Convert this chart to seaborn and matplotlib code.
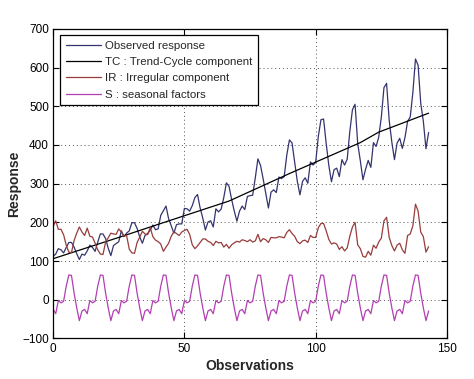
import numpy as np
import pandas as pd
import matplotlib
matplotlib.use("Agg")
import matplotlib.pyplot as plt
import seaborn as sns

# Dados
observed = [112, 118, 132, 129, 121, 135, 148, 148, 136, 119, 104, 118,
            115, 126, 141, 135, 125, 149, 170, 170, 158, 133, 114, 140,
            145, 150, 178, 163, 172, 178, 199, 199, 184, 162, 146, 166,
            171, 180, 193, 181, 183, 218, 230, 242, 209, 191, 172, 194,
            196, 196, 236, 235, 229, 243, 264, 272, 237, 211, 180, 201,
            204, 188, 235, 227, 234, 264, 302, 293, 259, 229, 203, 229,
            242, 233, 267, 269, 270, 315, 364, 347, 312, 274, 237, 278,
            284, 277, 317, 313, 318, 374, 413, 405, 355, 306, 271, 306,
            315, 301, 356, 348, 355, 422, 465, 467, 404, 347, 305, 336,
            340, 318, 362, 348, 363, 435, 491, 505, 404, 359, 310, 337,
            360, 342, 406, 396, 420, 472, 548, 559, 463, 407, 362, 405,
            417, 391, 419, 461, 472, 535, 622, 606, 508, 461, 390, 432]

# Tendência (pontos lidos ao longo da reta)
tc_x = [0, 25, 41, 67, 90, 117, 124, 143]
tc_y = [106, 161, 197, 255, 326, 406, 433, 482]

irregular = [189, 204, 182, 182, 168, 141, 123, 122, 153, 172, 188, 175,
             166, 185, 164, 162, 146, 129, 118, 117, 149, 160, 172, 170,
             169, 183, 175, 164, 166, 131, 121, 120, 148, 162, 177, 170,
             168, 186, 163, 154, 150, 144, 125, 136, 146, 164, 176, 171,
             166, 175, 179, 182, 169, 142, 132, 139, 148, 157, 157, 151,
             148, 140, 151, 147, 148, 136, 143, 133, 142, 147, 151, 149,
             155, 153, 150, 155, 149, 152, 169, 150, 158, 155, 148, 161,
             160, 160, 163, 162, 160, 174, 181, 171, 164, 150, 145, 152,
             154, 148, 166, 161, 161, 186, 197, 197, 178, 156, 144, 147,
             144, 130, 137, 126, 134, 164, 188, 200, 142, 132, 112, 110,
             125, 115, 141, 133, 149, 159, 204, 213, 161, 140, 126, 141,
             146, 129, 120, 166, 170, 191, 247, 229, 175, 163, 123, 137]

seasonal = [-25, -36, -2, -8, -4, 35, 64, 63, 17, -21, -54, -29,
            -25, -36, -2, -8, -4, 35, 64, 63, 17, -21, -54, -29,
            -25, -36, -2, -8, -4, 35, 64, 63, 17, -21, -54, -29,
            -25, -36, -2, -8, -4, 35, 64, 63, 17, -21, -54, -29,
            -25, -36, -2, -8, -4, 35, 64, 63, 17, -21, -54, -29,
            -25, -36, -2, -8, -4, 35, 64, 63, 17, -21, -54, -29,
            -25, -36, -2, -8, -4, 35, 64, 63, 17, -21, -54, -29,
            -25, -36, -2, -8, -4, 35, 64, 63, 17, -21, -54, -29,
            -25, -36, -2, -8, -4, 35, 64, 63, 17, -21, -54, -29,
            -25, -36, -2, -8, -4, 35, 64, 63, 17, -21, -54, -29,
            -25, -36, -2, -8, -4, 35, 64, 63, 17, -21, -54, -29,
            -25, -36, -2, -8, -4, 35, 64, 63, 17, -21, -54, -29]

labels = ['Observed response', 'TC : Trend-Cycle component',
          'IR : Irregular component', 'S : seasonal factors']
cores = ['#34346e', '#000000', '#983c3c', '#b23fb2']

t = np.arange(len(observed))
df = pd.DataFrame({'obs': t, 'observed': observed,
                   'irregular': irregular, 'seasonal': seasonal})
df_tc = pd.DataFrame({'obs': tc_x, 'tc': tc_y})

# Estilo
sns.set_style("whitegrid")
plt.rcParams['font.family'] = ['Liberation Sans', 'DejaVu Sans']

fig = plt.figure(figsize=(4.74, 3.79), dpi=100)
ax = fig.add_axes([0.112, 0.107, 0.831, 0.817])

sns.lineplot(data=df, x='obs', y='observed', ax=ax, color=cores[0], linewidth=0.9, label=labels[0])
sns.lineplot(data=df_tc, x='obs', y='tc', ax=ax, color=cores[1], linewidth=0.9, label=labels[1])
sns.lineplot(data=df, x='obs', y='irregular', ax=ax, color=cores[2], linewidth=0.9, label=labels[2])
sns.lineplot(data=df, x='obs', y='seasonal', ax=ax, color=cores[3], linewidth=0.9, label=labels[3])

ax.set_xlim(0, 150)
ax.set_ylim(-100, 700)
ax.set_xticks([0, 50, 100, 150])
ax.set_yticks(range(-100, 701, 100))
ax.grid(True, color='#555555', linestyle=(0, (1, 3)), linewidth=0.7)
for s in ax.spines.values():
    s.set_color('black')
    s.set_linewidth(0.9)
    s.set_visible(True)
ax.tick_params(direction='in', length=4, width=0.8, colors='black',
               labelsize=8.5, pad=3, top=True, right=True,
               bottom=True, left=True)

ax.set_xlabel('Observations', fontsize=10, fontweight='bold', labelpad=3)
ax.set_ylabel('Response', fontsize=10, fontweight='bold', labelpad=1)

leg = ax.legend(loc='upper left', bbox_to_anchor=(60 / 474, 1 - 35 / 379),
                bbox_transform=fig.transFigure, borderaxespad=0,
                fontsize=8.25, fancybox=False, framealpha=1,
                edgecolor='black', handlelength=3.1, handletextpad=0.35,
                labelspacing=0.55, borderpad=0.5)
leg.get_frame().set_linewidth(0.9)

fig.savefig('out.png', dpi=100)
